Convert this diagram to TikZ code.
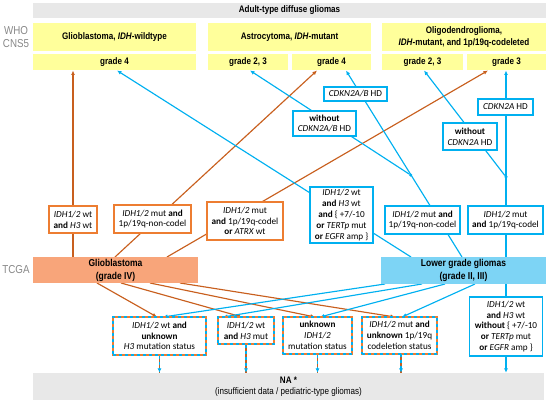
\documentclass[tikz,border=0pt]{standalone}
\usepackage{fontspec}
\setmainfont{Carlito}
\newfontfamily\headfont[FakeStretch=0.85]{Liberation Sans}
\usetikzlibrary{arrows.meta,backgrounds}

\definecolor{naGray}{RGB}{232,232,232}
\definecolor{whoYellow}{RGB}{255,255,155}
\definecolor{sideGray}{RGB}{135,135,135}
\definecolor{gbmFill}{RGB}{248,165,122}
\definecolor{lggFill}{RGB}{125,212,245}
\definecolor{boxOrange}{RGB}{237,125,49}
\definecolor{lineOrange}{RGB}{200,95,30}
\definecolor{lineBlue}{RGB}{0,176,240}

\tikzset{
  graybar/.style={fill=naGray, inner sep=0pt, align=center, font=\headfont\bfseries\fontsize{9.5}{10.5}\selectfont},
  whobox/.style={fill=whoYellow, inner sep=0pt, align=center, font=\headfont\bfseries\fontsize{9.5}{11.5}\selectfont},
  sidelabel/.style={text=sideGray, align=center, font=\headfont\fontsize{11.5}{13}\selectfont},
  gbmbox/.style={fill=gbmFill, inner sep=0pt, align=center, font=\headfont\bfseries\fontsize{10}{13}\selectfont},
  lggbox/.style={gbmbox, fill=lggFill},
  condo/.style={draw=boxOrange, fill=white, line width=1.2pt, inner sep=0pt, align=center, font=\fontsize{9.2}{10.8}\selectfont},
  condb/.style={condo, draw=lineBlue},
  unkbox/.style={condo, postaction={draw=lineBlue, line width=1.2pt, dash pattern=on 3pt off 3pt}},
  oline/.style={draw=lineOrange, line width=1.15pt},
  bline/.style={draw=lineBlue, line width=1.15pt},
  oarrow/.style={oline, -{Latex[length=4.5pt,width=4pt]}},
  barrow/.style={bline, -{Latex[length=4.5pt,width=4pt]}},
  darrow/.style={bline, dash pattern=on 3pt off 3pt, -{Latex[length=4.5pt,width=4pt]}},
  jdot/.style={circle, fill=lineBlue, inner sep=0pt, minimum size=3.5pt},
}

\begin{document}
\begin{tikzpicture}[x=1pt,y=-1pt]
   \useasboundingbox (0,0) rectangle (550,406);
   % WHO CNS5 classification
   \node[graybar, minimum width=513pt, minimum height=15pt] (adult) at (289.5,10.5) {Adult-type diffuse gliomas};
   \node[sidelabel] (who) at (16,37) {WHO\\CNS5};
   \node[whobox, minimum width=163pt, minimum height=28pt] (gbmwho) at (114.5,37) {Glioblastoma, \textit{IDH}-wildtype};
   \node[whobox, minimum width=163pt, minimum height=28pt] (astro) at (289.5,37) {Astrocytoma, \textit{IDH}-mutant};
   \node[whobox, minimum width=164pt, minimum height=28pt] (oligo) at (464,37) {Oligodendroglioma,\\\textit{IDH}-mutant, and 1p/19q-codeleted};
   \node[whobox, minimum width=163pt, minimum height=16pt] (gbmg4) at (114.5,62) {grade 4};
   \node[whobox, minimum width=80pt, minimum height=16pt] (astrog23) at (248,62) {grade 2, 3};
   \node[whobox, minimum width=79pt, minimum height=16pt] (astrog4) at (331.5,62) {grade 4};
   \node[whobox, minimum width=81pt, minimum height=16pt] (oligog23) at (422.5,62) {grade 2, 3};
   \node[whobox, minimum width=79pt, minimum height=16pt] (oligog3) at (506.5,62) {grade 3};
   % TCGA groups
   \node[sidelabel] (tcga) at (16,270) {TCGA};
   \node[gbmbox, minimum width=165pt, minimum height=26pt] (gbm) at (115.5,270) {Glioblastoma\\(grade IV)};
   \node[lggbox, minimum width=165pt, minimum height=27pt] (lgg) at (463.5,270.5) {Lower grade gliomas\\(grade II, III)};
   % conditions between TCGA and WHO
   \node[condo, minimum width=48pt, minimum height=27pt] (gbmwt) at (73,219.5) {\textit{IDH1/2} wt\\\textbf{and} \textit{H3} wt};
   \node[condo, minimum width=77pt, minimum height=28pt] (gbmnon) at (152.5,219) {\textit{IDH1/2} mut \textbf{and}\\1p/19q-non-codel};
   \node[condo, minimum width=76pt, minimum height=38pt] (gbmcod) at (245,221) {\textit{IDH1/2} mut\\\textbf{and} 1p/19q-codel\\\textbf{or} \textit{ATRX} wt};
   \node[condb, minimum width=63pt, minimum height=56pt] (lggwt) at (341.5,215) {\textit{IDH1/2} wt\\\textbf{and} \textit{H3} wt\\\textbf{and} \{ +7/-10\\\textbf{or} \textit{TERTp} mut\\\textbf{or} \textit{EGFR} amp \}};
   \node[condb, minimum width=75pt, minimum height=28pt] (lggnon) at (422.5,220) {\textit{IDH1/2} mut \textbf{and}\\1p/19q-non-codel};
   \node[condb, minimum width=75pt, minimum height=28pt] (lggcod) at (505.5,220) {\textit{IDH1/2} mut\\\textbf{and} 1p/19q-codel};
   \node[condb, minimum width=63pt, minimum height=14pt] (hdab) at (355.5,94) {\textit{CDKN2A/B} HD};
   \node[condb, minimum width=63pt, minimum height=25pt] (nohdab) at (324.5,123.5) {\textbf{without}\\\textit{CDKN2A/B} HD};
   \node[condb, minimum width=55pt, minimum height=16pt] (hda) at (505.5,107) {\textit{CDKN2A} HD};
   \node[condb, minimum width=54pt, minimum height=27pt] (nohda) at (470,136.5) {\textbf{without}\\\textit{CDKN2A} HD};
   \node[jdot] (astrojoin) at (410.6,175) {};
   \node[jdot] (oligojoin) at (506,177) {};
   % not assignable
   \node[unkbox, minimum width=93pt, minimum height=38pt] (unkh3) at (159.5,336) {\textit{IDH1/2} wt \textbf{and}\\\textbf{unknown}\\\textit{H3} mutation status};
   \node[unkbox, minimum width=56pt, minimum height=27pt] (h3mut) at (246,330.5) {\textit{IDH1/2} wt\\\textbf{and} \textit{H3} mut};
   \node[unkbox, minimum width=69pt, minimum height=37pt] (unkidh) at (317.5,335.5) {\textbf{unknown}\\\textit{IDH1/2}\\mutation status};
   \node[unkbox, minimum width=75pt, minimum height=37pt] (unkcod) at (399.5,335.5) {\textit{IDH1/2} mut \textbf{and}\\\textbf{unknown} 1p/19q\\codeletion status};
   \node[condb, minimum width=73pt, minimum height=59pt] (lggrest) at (506,326.5) {\textit{IDH1/2} wt\\\textbf{and} \textit{H3} wt\\\textbf{without} \{ +7/-10\\\textbf{or} \textit{TERTp} mut\\\textbf{or} \textit{EGFR} amp \}};
   \node[graybar, minimum width=511pt, minimum height=27pt, font=\headfont\fontsize{9.5}{11.5}\selectfont] (na) at (288.5,386.5) {\textbf{NA *}\\(insufficient data / pediatric-type gliomas)};
   % connector ends
   \coordinate (gbmA) at (73,257);   \coordinate (gbmg4A) at (73,70.5);
   \coordinate (gbmB) at (115,257);  \coordinate (astrog4B) at (317,70.5);
   \coordinate (gbmC) at (167,257);  \coordinate (oligog3C) at (488,70.5);
   \coordinate (lggA) at (411,257);  \coordinate (gbmg4B) at (117,70.5);
   \coordinate (lggB) at (462,257);  \coordinate (astrog4A) at (346,70.5);
   \coordinate (astrog23A) at (250,70.5);
   \coordinate (lggC) at (506,257);  \coordinate (oligog3A) at (506,70.5);
   \coordinate (oligog23A) at (424,70.5);
   \coordinate (gbmD1) at (97,283);  \coordinate (unkh3O) at (157,317);
   \coordinate (gbmD2) at (121,283); \coordinate (h3mutO) at (242,317);
   \coordinate (gbmD3) at (150,283); \coordinate (unkidhO) at (315,317);
   \coordinate (gbmD4) at (180,283); \coordinate (unkcodO) at (395,317);
   \coordinate (lggD1) at (385,284); \coordinate (unkh3B) at (163,317);
   \coordinate (lggD2) at (422,284); \coordinate (h3mutB) at (223,317);
   \coordinate (lggD3) at (445,284); \coordinate (unkidhB) at (320,317);
   \coordinate (lggD4) at (475,284); \coordinate (unkcodB) at (402,317);
   \coordinate (unkcodS) at (401,354);
   \begin{pgfonlayer}{background}
   % TCGA to WHO
   \draw[oarrow] (gbmA) -- (gbmg4A);
   \draw[oarrow] (gbmB) -- (astrog4B);
   \draw[oarrow] (gbmC) -- (oligog3C);
   \draw[barrow] (lggA) -- (gbmg4B);
   \draw[barrow] (lggB) -- (astrog4A);
   \draw[barrow] (astrojoin) -- (astrog23A);
   \draw[barrow] (lggC) -- (oligog3A);
   \draw[barrow] (oligojoin) -- (oligog23A);
   % TCGA to not assignable
   \draw[oarrow] (gbmD1) -- (unkh3O);
   \draw[oarrow] (gbmD2) -- (h3mutO);
   \draw[oarrow] (gbmD3) -- (unkidhO);
   \draw[oarrow] (gbmD4) -- (unkcodO);
   \draw[barrow] (lggD1) -- (unkh3B);
   \draw[barrow] (lggD2) -- (h3mutB);
   \draw[barrow] (lggD3) -- (unkidhB);
   \draw[barrow] (lggD4) -- (unkcodB);
   \draw[bline] (lgg.south -| lggrest.north) -- (lggrest.north);
   \end{pgfonlayer}
   % down to NA
   \foreach \u in {unkh3,h3mut,unkidh} {
      \draw[oline] (\u.south) -- (\u.south |- na.north);
      \draw[darrow] (\u.south) -- (\u.south |- na.north);
   }
   \draw[oline] (unkcodS) -- (unkcodS |- na.north);
   \draw[darrow] (unkcodS) -- (unkcodS |- na.north);
   \draw[barrow] (lggrest.south) -- (lggrest.south |- na.north);
\end{tikzpicture}
\end{document}
